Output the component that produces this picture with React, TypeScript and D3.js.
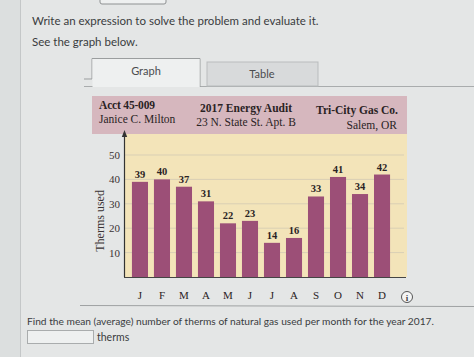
import React from "react";
import * as d3 from "d3";

const months = ["J", "F", "M", "A", "M", "J", "J", "A", "S", "O", "N", "D"];
const therms = [39, 40, 37, 31, 22, 23, 14, 16, 33, 41, 34, 42];
const yTicks = [10, 20, 30, 40, 50];

const W = 474;
const H = 357;

export default function App() {
  const idx = months.map((_, i) => String(i));
  const x = d3.scaleBand<string>().domain(idx).range([126, 396]).padding(0.27);
  const y = d3.scaleLinear().domain([0, 50]).range([277, 155]);
  const sans = "Lato, 'Open Sans', sans-serif";
  const serif = "'Liberation Serif', 'DejaVu Serif', serif";
  return (
    <svg width={W} height={H} style={{ position: "absolute", left: 0, top: 0 }}>
      <rect x={0} y={0} width={W} height={H} fill="#e4e6e6" />
      <rect x={0} y={0} width={20} height={H} fill="#dcdfdf" />
      <line x1={20.5} y1={0} x2={20.5} y2={H} stroke="#c4c7c8" />
      <rect x={100} y={-4} width={66} height={8} rx={2} fill="#eef0f0" stroke="#8e9192" />
      <text x={32} y={25} fontFamily={sans} fontSize={11.5} fill="#3a3c3e">
        Write an expression to solve the problem and evaluate it.
      </text>
      <text x={32} y={46} fontFamily={sans} fontSize={11.5} fill="#3a3c3e">
        See the graph below.
      </text>
      {/* tabs */}
      <line x1={84} y1={86.5} x2={W} y2={86.5} stroke="#a9acad" />
      <rect x={207} y={62} width={111} height={24} fill="#d8dadb" stroke="#b9bcbd" />
      <text x={262} y={78} textAnchor="middle" fontFamily={sans} fontSize={11} fill="#4a4c4e">
        Table
      </text>
      <path d="M84,79 L92,79 L92,58.5 L200,58.5 L200,87" fill="#eef0f0" stroke="#9a9d9e" />
      <rect x={92.5} y={59} width={107} height={28} fill="#eef0f0" />
      <text x={146} y={75} textAnchor="middle" fontFamily={sans} fontSize={11} fill="#4a4c4e">
        Graph
      </text>
      {/* chart header */}
      <rect x={92} y={96} width={315} height={38} fill="#d6b7be" />
      <g fontFamily={serif} fontSize={11.5} fill="#2a2324">
        <text x={99} y={109} fontWeight="bold" textLength={56}>Acct 45-009</text>
        <text x={99} y={123}>Janice C. Milton</text>
        <text x={246} y={112} textAnchor="middle" fontWeight="bold">2017 Energy Audit</text>
        <text x={246} y={126} textAnchor="middle">23 N. State St. Apt. B</text>
        <text x={398} y={114} textAnchor="end" fontWeight="bold">Tri-City Gas Co.</text>
        <text x={397} y={129} textAnchor="end">Salem, OR</text>
      </g>
      {/* plot area */}
      <rect x={124} y={134} width={283} height={143} fill="#f3e4b9" />
      {yTicks.map((t) => (
        <g key={t}>
          <line x1={124} x2={404} y1={y(t)} y2={y(t)} stroke="#d9cfb4" strokeWidth={1} />
          <text x={120} y={y(t) + 4} textAnchor="end" fontFamily={serif} fontSize={11} fill="#3a3334">
            {t}
          </text>
        </g>
      ))}
      <line x1={124.5} y1={136} x2={124.5} y2={277} stroke="#333" strokeWidth={1.2} />
      <path d="M124.5,130 L121.8,137 L127.2,137 Z" fill="#333" />
      <line x1={124} y1={277.5} x2={406} y2={277.5} stroke="#444" strokeWidth={1.2} />
      <text
        transform={`translate(104,${y(23)}) rotate(-90)`}
        textAnchor="middle"
        fontFamily={serif}
        fontSize={12}
        fill="#3a3334"
      >
        Therms used
      </text>
      {therms.map((v, i) => (
        <g key={i}>
          <rect
            x={x(String(i))}
            y={y(v)}
            width={x.bandwidth()}
            height={y(0) - y(v)}
            fill="#9c4f77"
          />
          <text
            x={(x(String(i)) as number) + x.bandwidth() / 2}
            y={y(v) - 4}
            textAnchor="middle"
            fontFamily={serif}
            fontSize={10.5}
            fontWeight="bold"
            fill="#2a2324"
          >
            {v}
          </text>
          <text
            x={(x(String(i)) as number) + x.bandwidth() / 2}
            y={299}
            textAnchor="middle"
            fontFamily={serif}
            fontSize={11}
            fill="#2a2324"
          >
            {months[i]}
          </text>
        </g>
      ))}
      {/* info icon */}
      <circle cx={407} cy={297} r={5.5} fill="#f4f5f5" stroke="#555" strokeWidth={1} />
      <text x={407} y={300.5} textAnchor="middle" fontFamily={serif} fontSize={9} fontWeight="bold" fill="#444">
        i
      </text>
      <line x1={80} y1={305.5} x2={W} y2={306.5} stroke="#9fa2a3" />
      <text x={27} y={325} fontFamily={sans} fontSize={10.2} fill="#3a3c3e">
        Find the mean (average) number of therms of natural gas used per month for the year 2017.
      </text>
      <rect x={27.5} y={330.5} width={66} height={13} fill="#eef0f0" stroke="#a9acad" />
      <text x={97} y={341} fontFamily={sans} fontSize={10.5} fill="#3a3c3e">
        therms
      </text>
    </svg>
  );
}
